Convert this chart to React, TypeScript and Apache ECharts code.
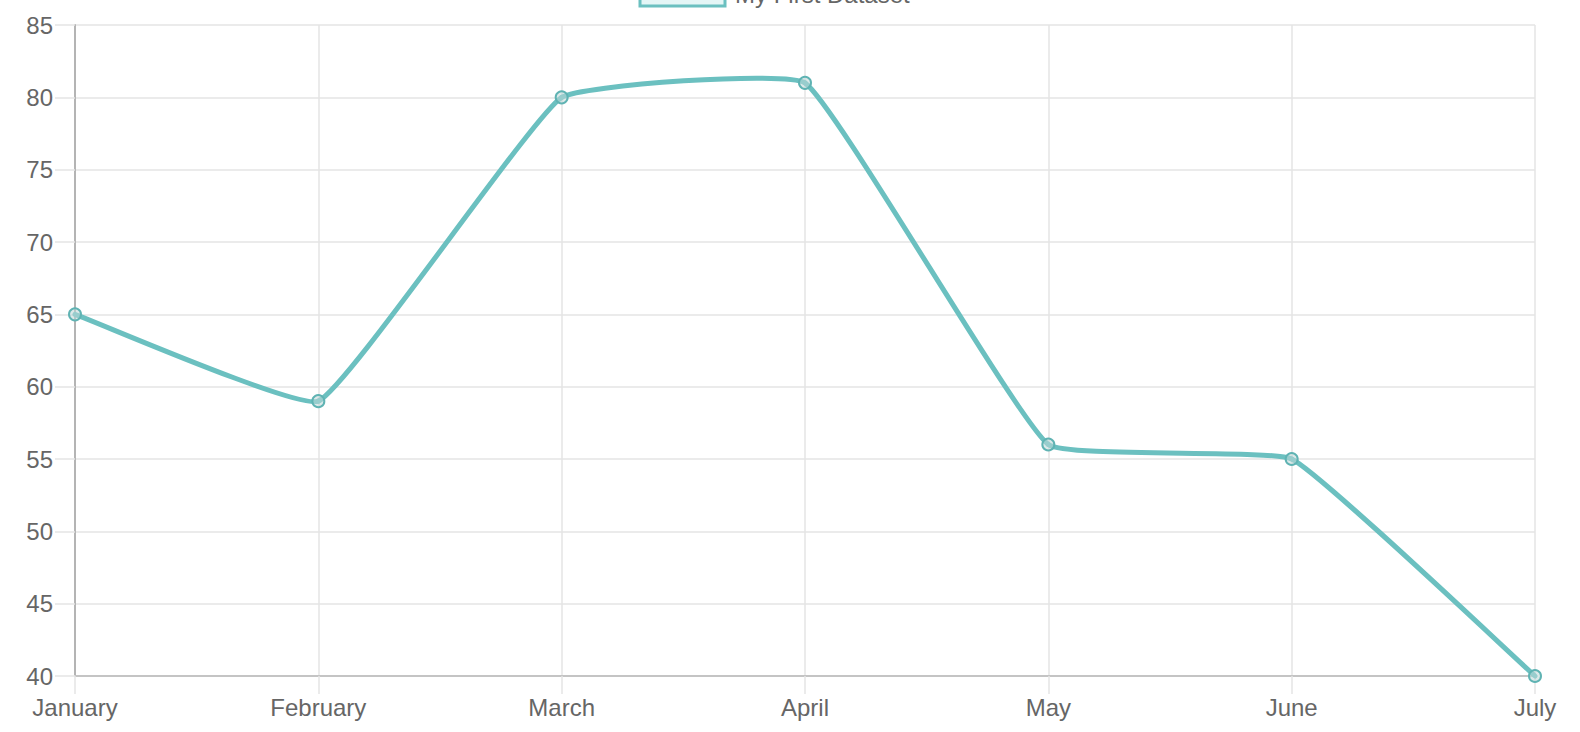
import React, { useEffect, useRef } from "react";
import * as echarts from "echarts";

const categories = ["January", "February", "March", "April", "May", "June", "July"];
const values = [65, 59, 80, 81, 56, 55, 40];
const seriesName = "My First Dataset";
const yMin = 40;
const yMax = 85;
const yStep = 5;
const tension = 0.1;

const LINE_COLOR = "#6bc0c0";

export default function App() {
  const ref = useRef<HTMLDivElement>(null);
  useEffect(() => {
    if (!ref.current) return;
    const chart = echarts.init(ref.current, undefined, { renderer: "svg" });
    const font = "'Liberation Sans', Arial, Helvetica, sans-serif";

    const renderSegment = (params: any, api: any) => {
      const i = params.dataIndex;
      const n = values.length;
      if (i >= n - 1) return null;
      const pts = values.map((v, k) => api.coord([k, v]));
      const top = api.coord([0, yMax])[1];
      const bottom = api.coord([0, yMin])[1];
      const left = api.coord([0, yMin])[0];
      const right = api.coord([n - 1, yMin])[0];
      const cps = (k: number) => {
        const cur = pts[k];
        const prev = pts[k - 1] || cur;
        const next = pts[k + 1] || cur;
        const d01 = Math.hypot(cur[0] - prev[0], cur[1] - prev[1]);
        const d12 = Math.hypot(next[0] - cur[0], next[1] - cur[1]);
        let s01 = d01 / (d01 + d12);
        let s12 = d12 / (d01 + d12);
        if (!isFinite(s01)) s01 = 0;
        if (!isFinite(s12)) s12 = 0;
        const fa = tension * s01;
        const fb = tension * s12;
        const clampX = (x: number) => Math.min(right, Math.max(left, x));
        const clampY = (y: number) => Math.min(bottom, Math.max(top, y));
        return {
          prev: [clampX(cur[0] - fa * (next[0] - prev[0])), clampY(cur[1] - fa * (next[1] - prev[1]))],
          next: [clampX(cur[0] + fb * (next[0] - prev[0])), clampY(cur[1] + fb * (next[1] - prev[1]))],
        };
      };
      const a = cps(i);
      const b = cps(i + 1);
      return {
        type: "bezierCurve",
        shape: {
          x1: pts[i][0],
          y1: pts[i][1],
          x2: pts[i + 1][0],
          y2: pts[i + 1][1],
          cpx1: a.next[0],
          cpy1: a.next[1],
          cpx2: b.prev[0],
          cpy2: b.prev[1],
        },
        style: { stroke: LINE_COLOR, lineWidth: 5, fill: null, lineCap: "round" },
      };
    };

    chart.setOption({
      animation: false,
      grid: { left: 75, right: 45, top: 25, bottom: 56, containLabel: false },
      graphic: [
        {
          type: "rect",
          shape: { x: 640, y: -22, width: 85, height: 28 },
          style: { fill: "rgba(75,192,192,0.15)", stroke: LINE_COLOR, lineWidth: 3 },
        },
        {
          type: "text",
          x: 735,
          y: -6,
          style: {
            text: seriesName,
            fill: "#666",
            font: `24px ${font}`,
            verticalAlign: "middle",
          },
        },
      ],
      xAxis: {
        type: "category",
        data: categories,
        boundaryGap: false,
        axisLine: { show: true, lineStyle: { color: "#c4c4c4", width: 2 } },
        axisTick: { show: true, length: 18, lineStyle: { color: "#e4e4e4", width: 1.5 } },
        axisLabel: { color: "#666", fontSize: 24, fontFamily: font, margin: 19 },
        splitLine: { show: true, lineStyle: { color: "#e4e4e4", width: 1.5 } },
      },
      yAxis: {
        type: "value",
        min: yMin,
        max: yMax,
        interval: yStep,
        axisLine: { show: true, lineStyle: { color: "#b4b4b4", width: 2 } },
        axisTick: { show: true, length: 20, lineStyle: { color: "#e4e4e4", width: 1.5 } },
        axisLabel: { color: "#666", fontSize: 24, fontFamily: font, margin: 22 },
        splitLine: { show: true, lineStyle: { color: "#e4e4e4", width: 1.5 } },
      },
      series: [
        {
          name: seriesName,
          type: "custom",
          data: values.map((v, i) => [i, v]),
          renderItem: renderSegment,
          clip: false,
          z: 2,
        },
        {
          name: seriesName,
          type: "line",
          data: values,
          symbol: "circle",
          symbolSize: 12,
          lineStyle: { width: 0, opacity: 0 },
          itemStyle: { color: "rgba(190,215,215,0.55)", borderColor: "#5fb3b3", borderWidth: 2 },
          z: 3,
        },
      ],
    });
    return () => chart.dispose();
  }, []);
  return (
    <div
      ref={ref}
      style={{ position: "fixed", left: 0, top: 0, width: 1580, height: 732, background: "#fff" }}
    />
  );
}
